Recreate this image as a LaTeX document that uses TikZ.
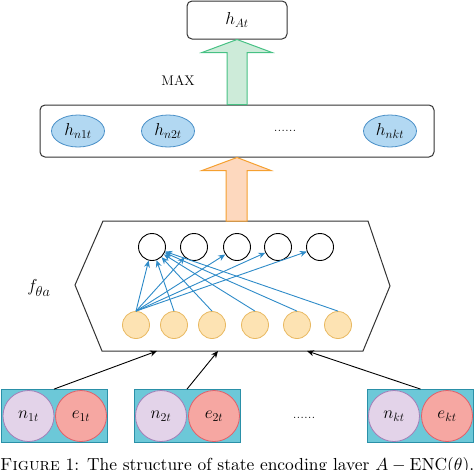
\documentclass[tikz,border=0pt]{standalone}
\usepackage{graphicx}
\usetikzlibrary{arrows.meta,shapes.geometric,calc}
\definecolor{boxline}{HTML}{333333}
\definecolor{ellfill}{HTML}{B2D8F2}
\definecolor{ellline}{HTML}{4A90C8}
\definecolor{yelfill}{HTML}{FDE3B3}
\definecolor{yelline}{HTML}{E8B860}
\definecolor{lavfill}{HTML}{E3D3E9}
\definecolor{lavline}{HTML}{A27FB8}
\definecolor{salfill}{HTML}{F6A7A2}
\definecolor{salline}{HTML}{E0606A}
\definecolor{cyanfill}{HTML}{6CC8D8}
\definecolor{cyanline}{HTML}{2A90A8}
\definecolor{grnfill}{HTML}{CDEBD9}
\definecolor{grnline}{HTML}{47C184}
\definecolor{orgfill}{HTML}{FDD8BE}
\definecolor{orgline}{HTML}{F5A030}
\definecolor{connblue}{HTML}{2E8BC8}
\tikzset{
  rbox/.style={draw=boxline, line width=1pt, rounded corners=5pt, fill=white, inner sep=0pt},
  hell/.style={ellipse, draw=ellline, fill=ellfill, line width=0.8pt, minimum width=53pt, minimum height=32pt, inner sep=0pt, font=\fontsize{18}{20}\selectfont},
  neuron/.style={circle, draw=black, line width=0.9pt, minimum size=27pt, inner sep=0pt},
  inp/.style={circle, draw=yelline, fill=yelfill, line width=0.8pt, minimum size=27pt, inner sep=0pt},
  nball/.style={circle, draw=lavline, fill=lavfill, line width=0.8pt, minimum size=51pt, inner sep=0pt, font=\fontsize{17}{19}\selectfont},
  eball/.style={circle, draw=salline, fill=salfill, line width=0.8pt, minimum size=51pt, inner sep=0pt, font=\fontsize{17}{19}\selectfont},
  pairbox/.style={rectangle, draw=cyanline, fill=cyanfill, line width=0.8pt, minimum width=106pt, minimum height=53pt, inner sep=0pt},
  conn/.style={draw=connblue, line width=0.9pt, -{Stealth[length=7pt,width=6pt]}},
  feed/.style={draw=black, line width=0.9pt, -{Stealth[length=7pt,width=6pt]}},
  bigG/.style={draw=grnline, fill=grnfill, line width=1pt},
  bigO/.style={draw=orgline, fill=orgfill, line width=1pt},
  lbl/.style={inner sep=0pt, font=\fontsize{15}{17}\selectfont}
}
\begin{document}
\begin{tikzpicture}[x=1pt,y=-1pt]
\useasboundingbox (0,0) rectangle (474,469);

% top output box
\node[rbox, minimum width=100pt, minimum height=38pt] (top) at (237,20) {\fontsize{18}{20}\selectfont $h_{At}$};
\node[lbl, font=\fontsize{14}{16}\selectfont] (max) at (178,80) {MAX};

% middle box with ellipses
\node[rbox, minimum width=394pt, minimum height=52pt] (mid) at (237,131) {};
\node[hell] (h1) at (78,131) {$h_{n1t}$};
\node[hell] (h2) at (168,131) {$h_{n2t}$};
\node[hell] (hk) at (390,131) {$h_{nkt}$};
\node[lbl] (hdots) at (285,131) {......};

% green block arrow
\draw[bigG] (top.south) -- ++(35,13) -- ++(-25,0) coordinate (gA)
  -- (gA |- mid.north) -- ++(-20,0) coordinate (gB) -- (gB |- gA) -- ++(-25,0) -- cycle;

% hexagon
\coordinate (hxA) at (103,221);
\coordinate (hxB) at (368,221);
\coordinate (hxC) at (390,286);
\coordinate (hxD) at (363,351);
\coordinate (hxE) at (102,351);
\coordinate (hxF) at (75,285);
\coordinate (ht) at (237,221);
\draw[draw=boxline, line width=1pt] (hxA) -- (hxB) -- (hxC) -- (hxD) -- (hxE) -- (hxF) -- cycle;
\node[lbl, font=\fontsize{19}{21}\selectfont] (f) at (39,288) {$f_{\theta a}$};

% orange block arrow
\draw[bigO] (mid.south) -- ++(34,13) -- ++(-24,0) coordinate (oA)
  -- (oA |- ht) -- ++(-21,0) coordinate (oB) -- (oB |- oA) -- ++(-24,0) -- cycle;

% neurons
\node[neuron] (b1) at (152,247) {};
\node[neuron] (b2) at (194,247) {};
\node[neuron] (b3) at (237,247) {};
\node[neuron] (b4) at (278,247) {};
\node[neuron] (b5) at (320,247) {};
\node[inp] (y1) at (136,325) {};
\node[inp] (y2) at (174,325) {};
\node[inp] (y3) at (212,325) {};
\node[inp] (y4) at (255,325) {};
\node[inp] (y5) at (297,325) {};
\node[inp] (y6) at (338,325) {};

\draw[conn] (y1.north) -- (b1);
\draw[conn] (y1.north) -- (b2);
\draw[conn] (y1.north) -- (b3);
\draw[conn] (y1.north) -- (b4);
\draw[conn] (y1.north) -- (b5);
\draw[conn] (y2.north) -- (b1);
\draw[conn] (y3.north) -- (b1);
\draw[conn] (y4.north) -- (b1);
\draw[conn] (y5.north) -- (b1);
\draw[conn] (y6.north) -- (b1);

% bottom pair boxes
\node[pairbox] (p1) at (54,416) {};
\node[nball] (n1) at (28.5,416) {$n_{1t}$};
\node[eball] (e1) at (81,416) {$e_{1t}$};
\node[pairbox] (p2) at (187,416) {};
\node[nball] (n2) at (161,416) {$n_{2t}$};
\node[eball] (e2) at (214,416) {$e_{2t}$};
\node[pairbox] (p3) at (420.5,416) {};
\node[nball] (nk) at (394,416) {$n_{kt}$};
\node[eball] (ek) at (447,416) {$e_{kt}$};
\node[lbl] (bdots) at (304,418) {......};

\coordinate (in1) at (157,351);
\coordinate (in2) at (218,351);
\coordinate (in3) at (307,351);
\draw[feed] (p1.north) -- (in1);
\draw[feed] (p2.north) -- (in2);
\draw[feed] (p3.north) -- (in3);

% caption (cut by the page edge)
\node[anchor=base west, inner sep=0pt] (cap) at (0,470.5) {\resizebox{474pt}{!}{\textsc{Figure} 1: The structure of state encoding layer $A-\mathrm{ENC}(\theta)$.}};
\end{tikzpicture}
\end{document}
